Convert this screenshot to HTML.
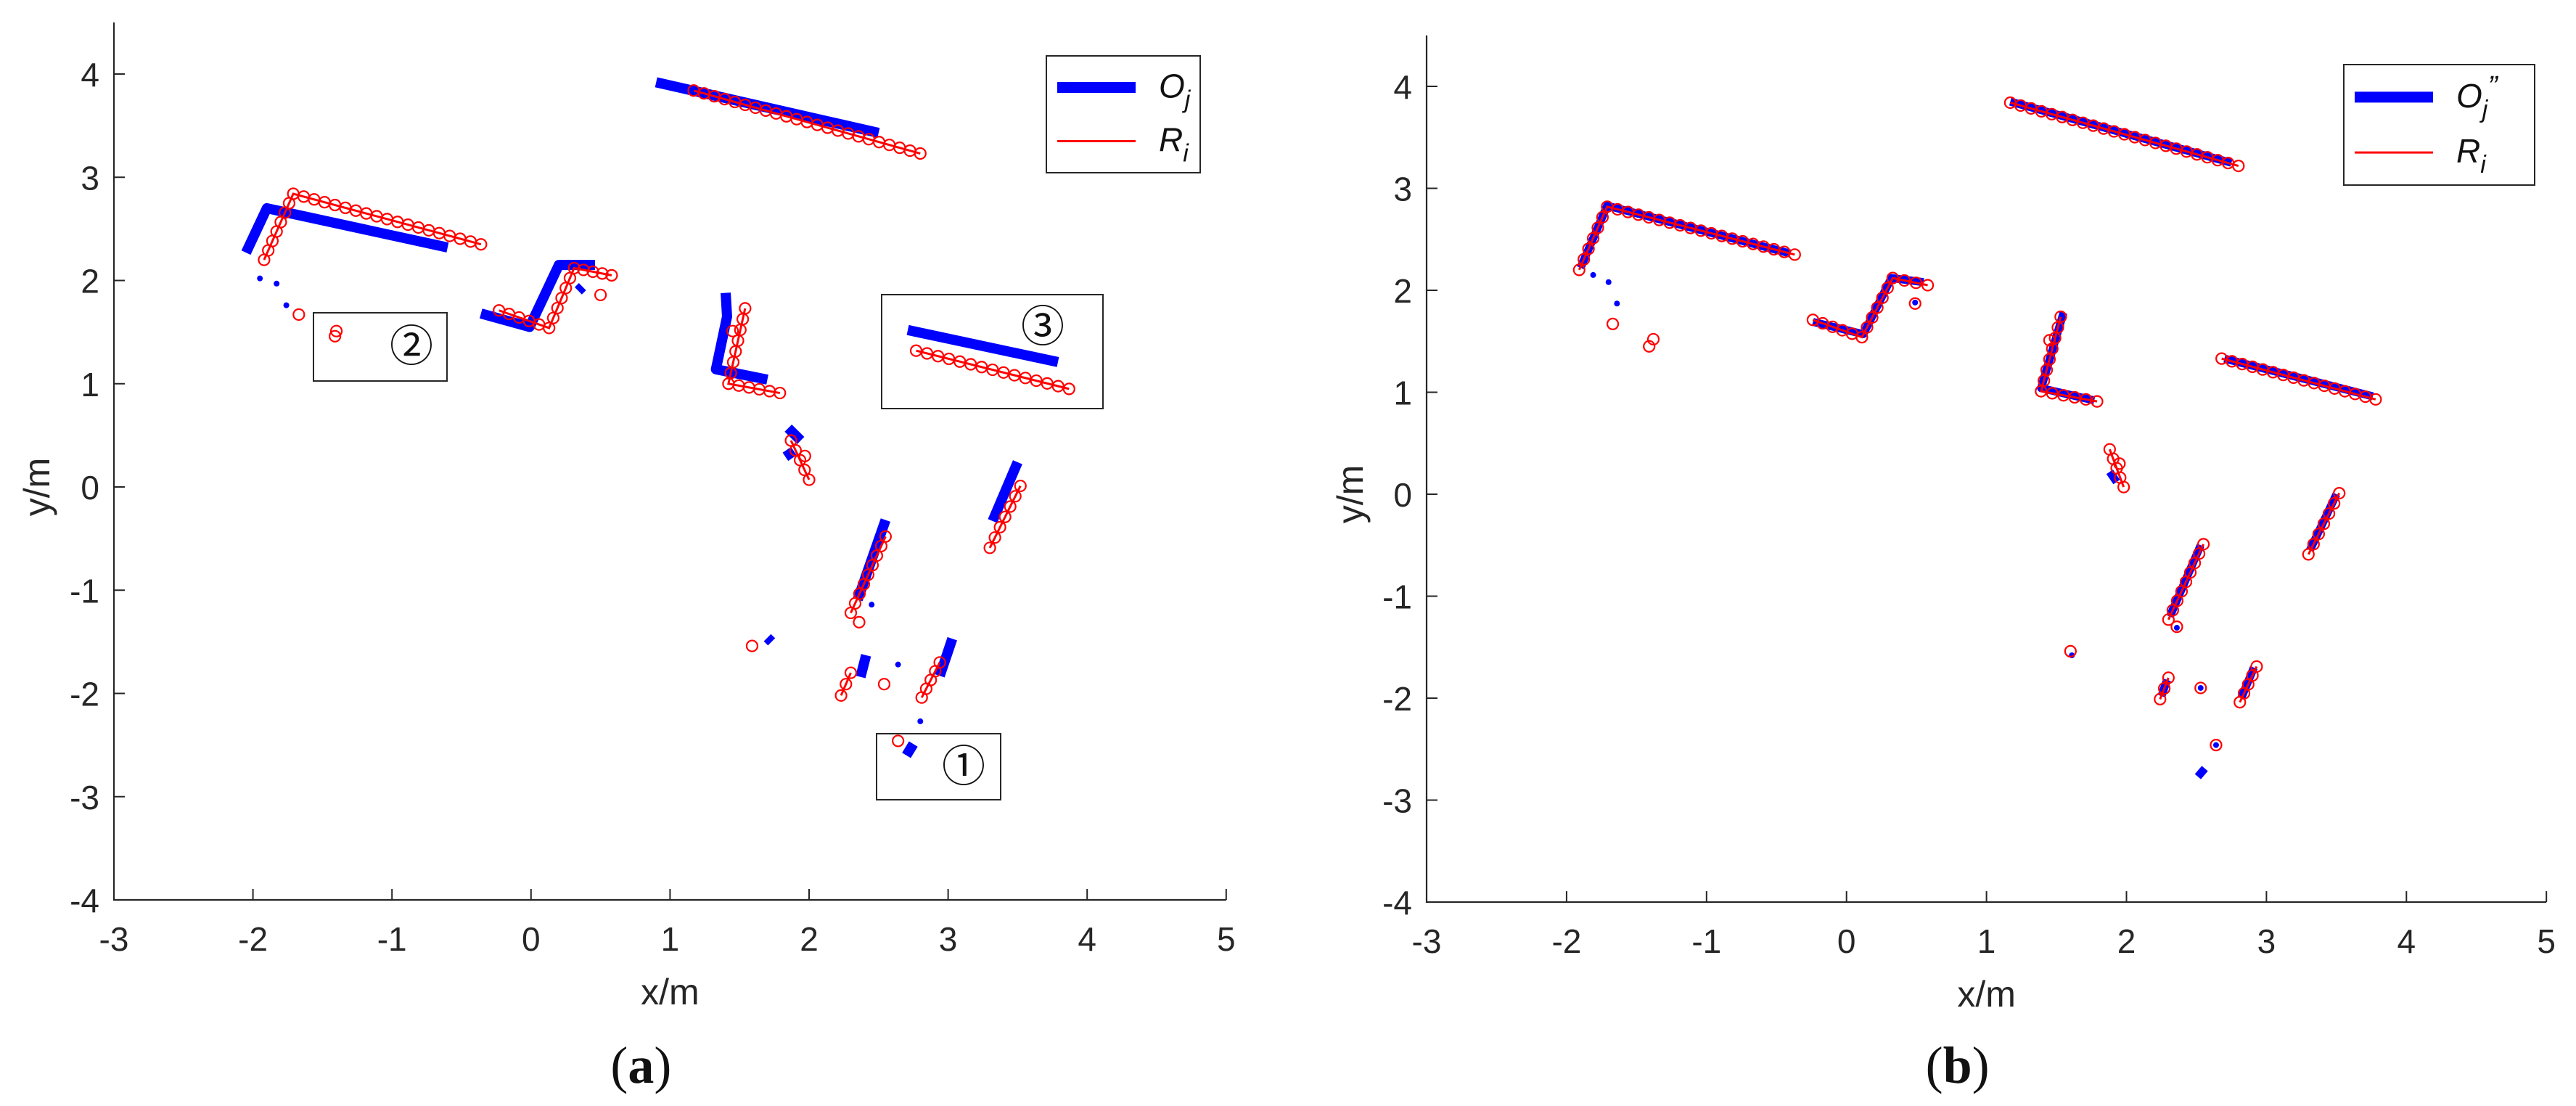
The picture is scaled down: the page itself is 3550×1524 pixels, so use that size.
<!DOCTYPE html>
<html><head><meta charset="utf-8"><style>
html,body{margin:0;padding:0;background:#fff;}
svg{display:block;font-family:"Liberation Sans",sans-serif;}
</style></head><body>
<svg id="fig" width="3550" height="1524" viewBox="0 0 3550 1524" xmlns="http://www.w3.org/2000/svg">
<rect width="3550" height="1524" fill="#fff"/>
<g id="pa"></g>
<g id="pb"></g>
</svg>
<script>
const xTicks = [-3,-2,-1,0,1,2,3,4,5];
const yTicks = [-4,-3,-2,-1,0,1,2,3,4];
// Plot (a) blue O_j polylines
const blueA = [
 [[0.9,3.92],[2.5,3.43]],
 [[-2.05,2.27],[-1.9,2.70],[-0.6,2.32]],
 [[-0.36,1.68],[-0.01,1.55],[0.20,2.15],[0.46,2.15]],
 [[1.40,1.88],[1.41,1.65],[1.33,1.14],[1.70,1.04]],
 [[1.85,0.57],[1.94,0.45]],
 [[1.84,0.36],[1.88,0.28]],
 [[2.55,-0.32],[2.35,-1.09]],
 [[3.50,0.24],[3.32,-0.33]],
 [[2.41,-1.63],[2.37,-1.84]],
 [[3.03,-1.47],[2.94,-1.83]],
 [[1.70,-1.46],[1.73,-1.50]],
 [[2.75,-2.49],[2.70,-2.60]],
 [[0.34,1.90],[0.37,1.94]]
];
const blueDotsA = [[-1.95,2.02],[-1.83,1.97],[-1.76,1.76],[2.45,-1.14],[2.64,-1.72],[2.80,-2.27]];
// Plot (a) red R_i polylines
const redA = [
 [[1.17,3.84],[2.80,3.23]],
 [[-1.92,2.20],[-1.71,2.84],[-0.36,2.35]],
 [[-0.23,1.71],[0.13,1.54],[0.31,2.12],[0.58,2.05]],
 [[1.54,1.73],[1.42,1.00],[1.79,0.91]],
 [[1.87,0.45],[2.00,0.07]],
 [[2.55,-0.48],[2.30,-1.22]],
 [[3.52,0.01],[3.30,-0.59]],
 [[2.30,-1.80],[2.23,-2.02]],
 [[2.94,-1.70],[2.81,-2.04]]
];
const redDotsA = [[0.50,1.86],[1.45,1.51],[2.36,-1.31],[2.54,-1.91],[1.59,-1.54],[2.64,-2.46],[-1.67,1.67],[-1.40,1.51],[-1.41,1.46],[1.97,0.30]];
// inset (3) in plot (a)
const blueInsetA = [[[2.71,1.52],[3.79,1.21]]];
const redInsetA = [[[2.77,1.32],[3.87,0.95]]];
// Plot (b)
const redB = [
 [[1.17,3.84],[2.80,3.22]],
 [[-1.91,2.20],[-1.71,2.82],[-0.37,2.35]],
 [[-0.24,1.71],[0.11,1.54],[0.33,2.12],[0.58,2.05]],
 [[1.53,1.74],[1.39,1.01],[1.79,0.91]],
 [[1.88,0.44],[1.98,0.07]],
 [[2.55,-0.49],[2.30,-1.23]],
 [[3.52,0.01],[3.30,-0.59]],
 [[2.30,-1.80],[2.24,-2.01]],
 [[2.93,-1.69],[2.81,-2.04]],
 [[2.68,1.33],[3.78,0.93]]
];
const blueB = [
 [[1.17,3.85],[2.75,3.25]],
 [[-1.90,2.22],[-1.71,2.83],[-0.40,2.36]],
 [[-0.24,1.69],[0.12,1.57],[0.32,2.12],[0.55,2.08]],
 [[1.55,1.78],[1.39,1.04],[1.77,0.92]],
 [[1.88,0.22],[1.93,0.12]],
 [[2.53,-0.50],[2.31,-1.20]],
 [[3.50,0.0],[3.31,-0.55]],
 [[2.29,-1.82],[2.25,-1.98]],
 [[2.91,-1.70],[2.82,-2.00]],
 [[2.70,1.33],[3.76,0.96]],
 [[2.56,-2.69],[2.51,-2.77]]
];
const blueDotsB = [[-1.81,2.15],[-1.70,2.08],[-1.64,1.87],[0.49,1.88],[2.36,-1.31],[1.61,-1.58],[2.64,-2.46],[2.53,-1.90]];
const redDotsB = [[0.49,1.87],[1.45,1.51],[2.36,-1.30],[2.53,-1.90],[1.60,-1.54],[2.64,-2.46],[-1.67,1.67],[-1.38,1.52],[-1.41,1.45],[1.95,0.30]];

const NS = "http://www.w3.org/2000/svg";
function mk(parent, tag, attrs){ const e=document.createElementNS(NS,tag); for(const k in attrs) e.setAttribute(k,attrs[k]); parent.appendChild(e); return e; }

function drawPlot(g, cfg){
  const X = v => cfg.x0 + (v - (-3)) * cfg.ux;
  const Y = v => cfg.y4 + (4 - v) * cfg.uy;
  const axC = "#262626";
  const ax = mk(g,"path",{d:`M${X(-3)},${Y(4.5)} L${X(-3)},${Y(-4)} L${X(5)},${Y(-4)}`,fill:"none",stroke:axC,"stroke-width":2.2});
  
  
  xTicks.forEach(t=>{
    const l=mk(g,"line",{x1:X(t),x2:X(t),y1:Y(-4),y2:Y(-4)-15,stroke:axC,"stroke-width":2});
    
    
    const tx=mk(g,"text",{x:X(t),y:Y(-4)+70,"text-anchor":"middle","font-size":46,fill:"#262626"});
    tx.textContent=t;
    
    
  });
  yTicks.forEach(t=>{
    const l=mk(g,"line",{x1:X(-3),x2:X(-3)+15,y1:Y(t),y2:Y(t),stroke:axC,"stroke-width":2});
    
    
    const tx=mk(g,"text",{x:X(-3)-20,y:Y(t)+17,"text-anchor":"end","font-size":46,fill:"#262626"});
    tx.textContent=t;
    
    
  });
  const xl=mk(g,"text",{x:X(1),y:cfg.xlabY,"text-anchor":"middle","font-size":50,fill:"#262626"});
  xl.textContent="x/m";
  
  
  const yl=mk(g,"text",{x:0,y:0,"text-anchor":"middle","font-size":50,fill:"#262626",transform:`translate(${cfg.ylabX},${Y(0)}) rotate(-90)`});
  yl.textContent="y/m";
  
  
  const cap=mk(g,"text",{x:X(1)-40,y:1492,"text-anchor":"middle","font-size":72,fill:"#111","font-family":"Liberation Serif, serif"});
  cap.innerHTML=`(<tspan font-weight="bold">${cfg.cap}</tspan>)`;
  
  

  const pts = arr => arr.map(p=>X(p[0])+","+Y(p[1])).join(" ");
  cfg.blue.forEach(seg=>{
    const pl=mk(g,"polyline",{points:pts(seg),fill:"none",stroke:"#0000ff","stroke-width":cfg.bw,"stroke-linejoin":"round"});
    
    
  });
  cfg.blueDots.forEach(p=>{
    const c=mk(g,"circle",{cx:X(p[0]),cy:Y(p[1]),r:4,fill:"#0000ff"});
    
    
  });
  cfg.red.forEach(seg=>{
    const pl=mk(g,"polyline",{points:pts(seg),fill:"none",stroke:"#ff0000","stroke-width":3});
    
    
    for(let i=0;i<seg.length-1;i++){
      const a=seg[i],b=seg[i+1];
      const len=Math.hypot(X(b[0])-X(a[0]),Y(b[1])-Y(a[1]));
      const n=Math.max(1,Math.round(len/15));
      for(let k=(i===0?0:1);k<=n;k++){
        const t=k/n;
        const c=mk(g,"circle",{cx:X(a[0])+(X(b[0])-X(a[0]))*t,cy:Y(a[1])+(Y(b[1])-Y(a[1]))*t,r:7.5,fill:"none",stroke:"#ff0000","stroke-width":2.2});
        
        
      }
    }
  });
  cfg.redDots.forEach(p=>{
    const c=mk(g,"circle",{cx:X(p[0]),cy:Y(p[1]),r:7.5,fill:"none",stroke:"#ff0000","stroke-width":2.2});
    
    
  });
  const L=cfg.leg;
  const lb=mk(g,"rect",{x:L.x,y:L.y,width:L.w,height:L.h,fill:"#fff",stroke:"#262626","stroke-width":2});
  
  
  const l1=mk(g,"line",{x1:L.x+15,x2:L.x+123,y1:L.y+L.h*0.27,y2:L.y+L.h*0.27,stroke:"#0000ff","stroke-width":15});
  
  
  const l2=mk(g,"line",{x1:L.x+15,x2:L.x+123,y1:L.y+L.h*0.73,y2:L.y+L.h*0.73,stroke:"#ff0000","stroke-width":3});
  
  
  const t1=mk(g,"text",{x:L.x+155,y:L.y+L.h*0.27+14,"font-size":46,"font-style":"italic",fill:"#111"});
  t1.innerHTML=`O<tspan font-size="34" dy="14">j</tspan>${cfg.prime?'<tspan font-size="40" dy="-30">”</tspan>':''}`;
  
  
  const t2=mk(g,"text",{x:L.x+155,y:L.y+L.h*0.73+14,"font-size":46,"font-style":"italic",fill:"#111"});
  t2.innerHTML=`R<tspan font-size="34" dy="14">i</tspan>`;
  
  
  return {X,Y};
}

const A = drawPlot(document.getElementById('pa'),{x0:157,ux:191.6,y4:102,uy:142.25,blue:blueA.concat(blueInsetA),blueDots:blueDotsA,red:redA.concat(redInsetA),redDots:redDotsA,bw:14,leg:{x:1442,y:77,w:212,h:161},prime:false,cap:"a",xlabY:1384,ylabX:68});
const B = drawPlot(document.getElementById('pb'),{x0:1966,ux:192.9,y4:119,uy:140.5,blue:blueB,blueDots:blueDotsB,red:redB,redDots:redDotsB,bw:11,leg:{x:3230,y:89,w:263,h:166},prime:true,cap:"b",xlabY:1387,ylabX:1878});

const pa=document.getElementById('pa');
const boxes=[{x:432,y:431,w:184,h:94,lab:"②",tx:567,ty:498},{x:1215,y:406,w:305,h:157,lab:"③",tx:1437,ty:471},{x:1208,y:1011,w:171,h:91,lab:"①",tx:1328,ty:1077}];
boxes.forEach(b=>{
  const r=mk(pa,"rect",{x:b.x,y:b.y,width:b.w,height:b.h,fill:"none",stroke:"#262626","stroke-width":2});
  
  
  const t=mk(pa,"text",{x:b.tx,y:b.ty,"text-anchor":"middle","font-size":60,fill:"#111","font-family":"Noto Sans CJK JP, DejaVu Sans, sans-serif"});
  t.textContent=b.lab;
  
  
});
</script>
</body></html>
